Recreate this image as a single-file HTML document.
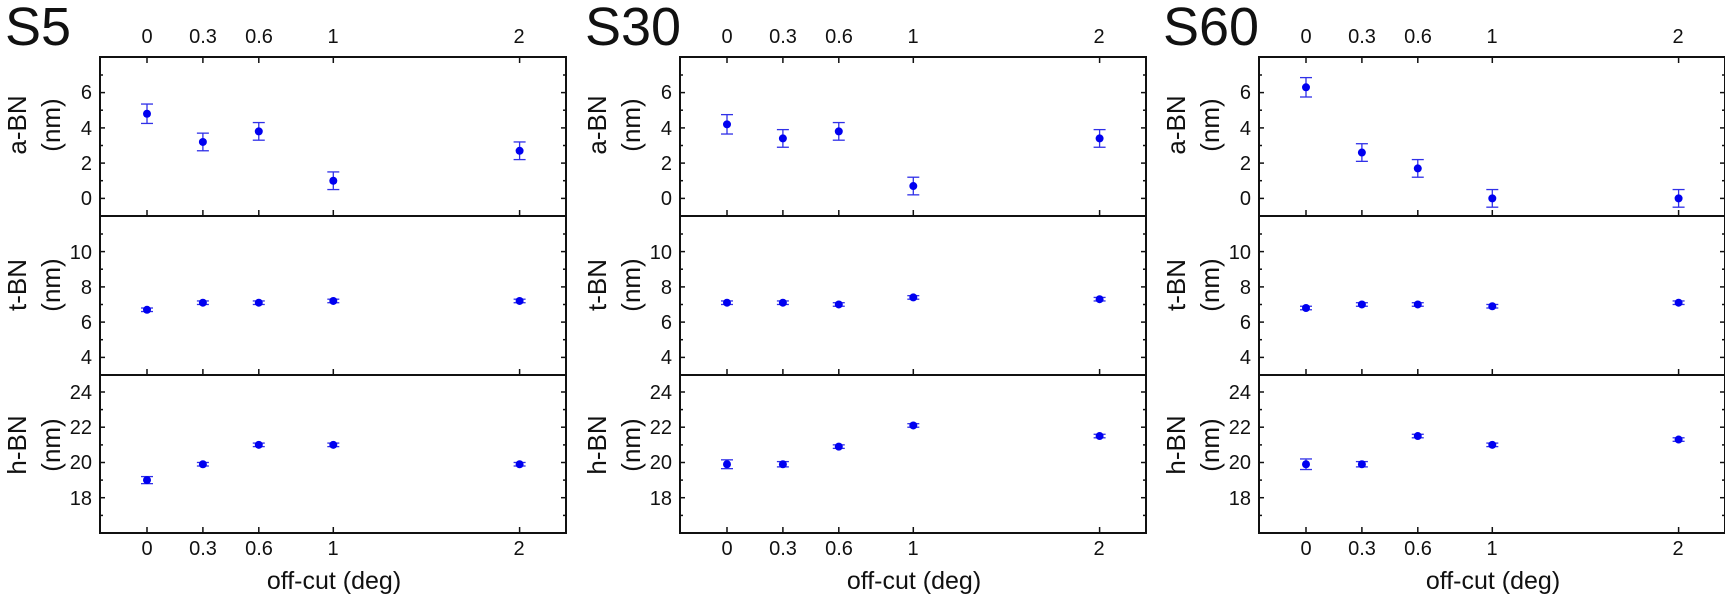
<!DOCTYPE html>
<html><head><meta charset="utf-8"><style>
html,body{margin:0;padding:0;background:#fff;}
svg{display:block;font-family:"Liberation Sans",Arial,sans-serif;}
</style></head><body>
<svg id="s" width="1725" height="599" viewBox="0 0 1725 599" xmlns="http://www.w3.org/2000/svg">
<g id="texts" fill="#111">
  <g id="p0">
    <g font-size="20" text-anchor="middle">
      <text x="147" y="43">0</text><text x="203" y="43">0.3</text><text x="259" y="43">0.6</text><text x="333" y="43">1</text><text x="519" y="43">2</text>
      <text x="147" y="555">0</text><text x="203" y="555">0.3</text><text x="259" y="555">0.6</text><text x="333" y="555">1</text><text x="519" y="555">2</text>
    </g>
    <g font-size="20" text-anchor="end">
      <text x="92" y="205">0</text><text x="92" y="170">2</text><text x="92" y="135">4</text><text x="92" y="99">6</text>
      <text x="92" y="364">4</text><text x="92" y="329">6</text><text x="92" y="294">8</text><text x="92" y="259">10</text>
      <text x="92" y="505">18</text><text x="92" y="469">20</text><text x="92" y="434">22</text><text x="92" y="399">24</text>
    </g>
    <text x="334" y="589" font-size="25" text-anchor="middle">off-cut (deg)</text>
    <g font-size="26" text-anchor="middle">
      <text transform="translate(26,125) rotate(-90)">a-BN</text>
      <text transform="translate(60,125) rotate(-90)">(nm)</text>
      <text transform="translate(26,285) rotate(-90)">t-BN</text>
      <text transform="translate(60,285) rotate(-90)">(nm)</text>
      <text transform="translate(26,445) rotate(-90)">h-BN</text>
      <text transform="translate(60,445) rotate(-90)">(nm)</text>
    </g>
  </g>
  <use href="#p0" transform="translate(580,0)"/>
  <use href="#p0" transform="translate(1159,0)"/>
  <g font-size="54">
    <text x="5" y="45">S5</text>
    <text x="585" y="45">S30</text>
    <text x="1163" y="45">S60</text>
  </g>
</g>
<g id="shapes"></g>
</svg>
<script>
(function(){
var g=document.getElementById('shapes'),h='';
var offs=[0,580,1159];
var T=[57,216,375],B=[216,375,533],LO=[-1,3,16],k=158.67/9;
var data=[
 [[[4.8,.55],[3.2,.5],[3.8,.5],[1.0,.5],[2.7,.5]],[[6.7,.1],[7.1,.1],[7.1,.1],[7.2,.1],[7.2,.1]],[[19.0,.2],[19.9,.1],[21.0,.1],[21.0,.1],[19.9,.1]]],
 [[[4.2,.55],[3.4,.5],[3.8,.5],[0.7,.5],[3.4,.5]],[[7.1,.1],[7.1,.1],[7.0,.1],[7.4,.1],[7.3,.1]],[[19.9,.25],[19.9,.15],[20.9,.1],[22.1,.1],[21.5,.1]]],
 [[[6.3,.55],[2.6,.5],[1.7,.5],[0,.5],[0,.5]],[[6.8,.1],[7.0,.1],[7.0,.1],[6.9,.1],[7.1,.1]],[[19.9,.3],[19.9,.15],[21.5,.1],[21.0,.1],[21.3,.1]]]
];
var xs=[0,.3,.6,1,2];
for(var p=0;p<3;p++){
 var L=100+offs[p],R=L+466,X=function(v){return L+47+v*186.3;};
 for(var s=0;s<3;s++){
  var Y=function(v){return B[s]-(v-LO[s])*k;};
  for(var v=LO[s]+1;v<LO[s]+9;v++){
   var len=((v%2)==0)?5:3,y=Y(v).toFixed(1);
   h+='<line x1="'+L+'" x2="'+(L+len)+'" y1="'+y+'" y2="'+y+'" stroke="#111" stroke-width="1.5"/>';
   h+='<line x1="'+R+'" x2="'+(R-len)+'" y1="'+y+'" y2="'+y+'" stroke="#111" stroke-width="1.5"/>';
  }
  xs.forEach(function(xv){var x=X(xv).toFixed(1);
   h+='<line x1="'+x+'" x2="'+x+'" y1="'+B[s]+'" y2="'+(B[s]-6)+'" stroke="#111" stroke-width="1.5"/>';
   if(s==0)h+='<line x1="'+x+'" x2="'+x+'" y1="'+T[0]+'" y2="'+(T[0]+6)+'" stroke="#111" stroke-width="1.5"/>';
  });
  data[p][s].forEach(function(d,i){
   var x=X(xs[i]),yc=Y(d[0]),y1=Y(d[0]+d[1]),y2=Y(d[0]-d[1]);
   h+='<line x1="'+x+'" x2="'+x+'" y1="'+y1+'" y2="'+y2+'" stroke="#3030e8" stroke-width="1.3"/>';
   h+='<line x1="'+(x-6)+'" x2="'+(x+6)+'" y1="'+y1+'" y2="'+y1+'" stroke="#3030e8" stroke-width="1.3"/>';
   h+='<line x1="'+(x-6)+'" x2="'+(x+6)+'" y1="'+y2+'" y2="'+y2+'" stroke="#3030e8" stroke-width="1.3"/>';
   h+='<circle cx="'+x+'" cy="'+yc+'" r="4" fill="#0000f0"/>';
  });
 }
 h+='<rect x="'+L+'" y="57" width="466" height="476" fill="none" stroke="#111" stroke-width="2"/>';
 h+='<line x1="'+L+'" x2="'+R+'" y1="216" y2="216" stroke="#111" stroke-width="2"/>';
 h+='<line x1="'+L+'" x2="'+R+'" y1="375" y2="375" stroke="#111" stroke-width="2"/>';
}
g.innerHTML=h;
})();
</script>
</body></html>
